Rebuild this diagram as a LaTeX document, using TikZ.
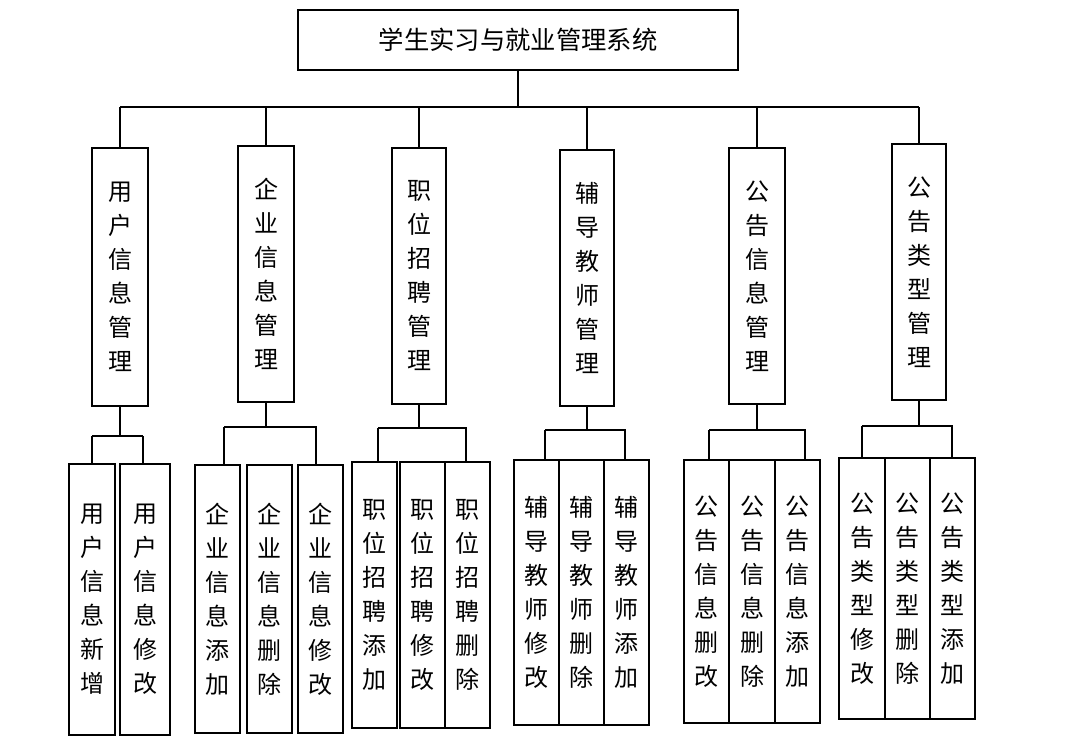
\documentclass[tikz,border=0pt]{standalone}
\usepackage{fontspec}
\setmainfont{Noto Sans CJK SC}
\begin{document}
\begin{tikzpicture}[x=0.75pt,y=-0.75pt,line width=1.2pt,
 bx/.style={draw,thick,inner sep=0,font=\fontsize{18}{25.5}\selectfont,align=center}]
\useasboundingbox (0,0) rectangle (1074,751);
\newcommand\bbox[6]{\node[bx,minimum width={(#3-#2)*0.75pt},minimum height={(#5-#4)*0.75pt}] (#1) at ({(#2+#3)/2},{(#4+#5)/2}) {#6};}
\bbox{r}{298}{738}{10}{70}{\fontsize{19}{22}\selectfont 学生实习与就业管理系统}
\bbox{a}{92}{148}{148}{406}{用\\户\\信\\息\\管\\理}
\bbox{b}{238}{294}{146}{402}{企\\业\\信\\息\\管\\理}
\bbox{c}{392}{446}{148}{404}{职\\位\\招\\聘\\管\\理}
\bbox{d}{560}{614}{150}{406}{辅\\导\\教\\师\\管\\理}
\bbox{e}{729}{785}{148}{404}{公\\告\\信\\息\\管\\理}
\bbox{f}{892}{946}{144}{400}{公\\告\\类\\型\\管\\理}
\coordinate (m) at (0,107);
\draw (r.south) -- (r.south |- m);
\draw (a.north |- m) -- (f.north |- m);
\foreach \n in {a,b,c,d,e,f}{\draw (\n.north) -- (\n.north |- m);}
% leaves
\bbox{a1}{69}{115}{464}{735}{用\\户\\信\\息\\新\\增}
\bbox{a2}{120}{170}{464}{735}{用\\户\\信\\息\\修\\改}
\bbox{b1}{195}{240}{465}{733}{企\\业\\信\\息\\添\\加}
\bbox{b2}{247}{292}{465}{733}{企\\业\\信\\息\\删\\除}
\bbox{b3}{298}{343}{465}{733}{企\\业\\信\\息\\修\\改}
\bbox{c1}{352}{397}{462}{728}{职\\位\\招\\聘\\添\\加}
\bbox{c2}{400}{445}{462}{728}{职\\位\\招\\聘\\修\\改}
\bbox{c3}{445}{490}{462}{728}{职\\位\\招\\聘\\删\\除}
\bbox{d1}{514}{559}{460}{725}{辅\\导\\教\\师\\修\\改}
\bbox{d2}{559}{604}{460}{725}{辅\\导\\教\\师\\删\\除}
\bbox{d3}{604}{649}{460}{725}{辅\\导\\教\\师\\添\\加}
\bbox{e1}{684}{729}{460}{723}{公\\告\\信\\息\\删\\改}
\bbox{e2}{729}{775}{460}{723}{公\\告\\信\\息\\删\\除}
\bbox{e3}{775}{820}{460}{723}{公\\告\\信\\息\\添\\加}
\bbox{f1}{839}{885}{458}{719}{公\\告\\类\\型\\修\\改}
\bbox{f2}{885}{930}{458}{719}{公\\告\\类\\型\\删\\除}
\bbox{f3}{930}{975}{458}{719}{公\\告\\类\\型\\添\\加}
\draw (a.south) -- ++(0,30); \draw (92,436) -- (143,436);
\draw (92,436) -- (92,464); \draw (143,436) -- (143,464);
\draw (b.south) -- (b.south |- 0,427); \draw (224,427) -- (316,427) -- (316,465); \draw (224,427) -- (224,465);
\draw (c.south) -- (c.south |- 0,428); \draw (378,428) -- (466,428) -- (466,462); \draw (378,428) -- (378,462);
\draw (d.south) -- (d.south |- 0,430); \draw (545,430) -- (625,430) -- (625,460); \draw (545,430) -- (545,460);
\draw (e.south) -- (e.south |- 0,430); \draw (709,430) -- (805,430) -- (805,460); \draw (709,430) -- (709,460);
\draw (f.south) -- (f.south |- 0,426); \draw (862,426) -- (952,426) -- (952,458); \draw (862,426) -- (862,458);
\end{tikzpicture}
\end{document}
